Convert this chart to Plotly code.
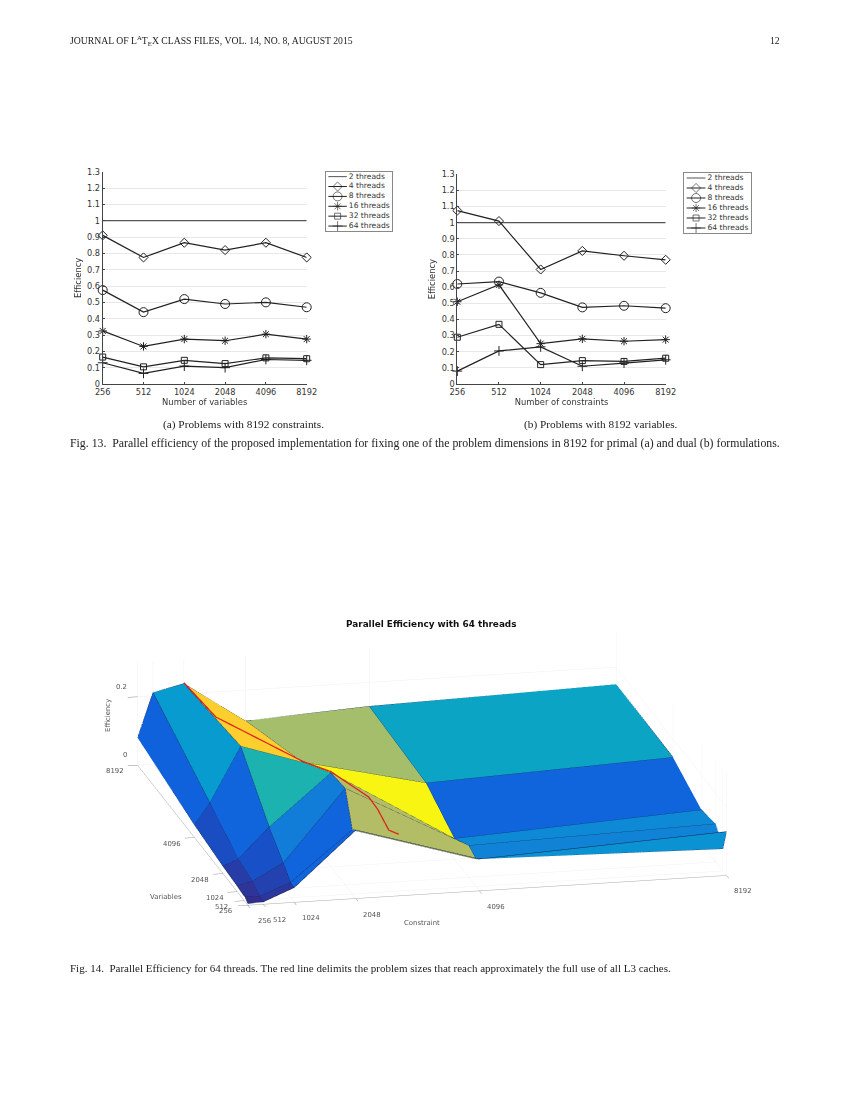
import plotly.graph_objects as go

W, H = 850, 1100

problem_sizes = [256, 512, 1024, 2048, 4096, 8192]
thread_names = ["2 threads", "4 threads", "8 threads", "16 threads", "32 threads", "64 threads"]
efficiency_ticks = [0, 0.1, 0.2, 0.3, 0.4, 0.5, 0.6, 0.7, 0.8, 0.9, 1, 1.1, 1.2, 1.3]
surface_z_ticks = [0, 0.2]

vars_2 = [1, 1, 1, 1, 1, 1]
vars_4 = [0.91, 0.775, 0.865, 0.82, 0.865, 0.775]
vars_8 = [0.575, 0.44, 0.52, 0.49, 0.50, 0.47]
vars_16 = [0.325, 0.23, 0.275, 0.265, 0.305, 0.275]
vars_32 = [0.165, 0.105, 0.145, 0.125, 0.16, 0.155]
vars_64 = [0.13, 0.065, 0.11, 0.10, 0.15, 0.145]

cons_2 = [1, 1, 1, 1, 1, 1]
cons_4 = [1.075, 1.01, 0.71, 0.825, 0.795, 0.77]
cons_8 = [0.62, 0.635, 0.565, 0.475, 0.485, 0.47]
cons_16 = [0.51, 0.615, 0.25, 0.28, 0.265, 0.275]
cons_32 = [0.29, 0.37, 0.12, 0.145, 0.14, 0.16]
cons_64 = [0.08, 0.205, 0.23, 0.11, 0.13, 0.15]

# surface heights: one row per variable count, one column per constraint count
surface_z = [
    [0.005, 0.007, 0.043, 0.200, 0.093, 0.128],
    [0.013, 0.010, 0.045, 0.187, 0.080, 0.065],
    [0.017, 0.028, 0.076, 0.282, 0.0925, 0.111],
    [0.022, 0.040, 0.1275, 0.2745, 0.060, 0.099],
    [0.037, 0.0986, 0.258, 0.200, 0.117, 0.147],
    [0.080, 0.210, 0.230, 0.110, 0.130, 0.150],
]
# value that sets each facet's colour
cell_value = [
    [0.003, 0.008, 0.036, 0.174, 0.076],
    [0.006, 0.014, 0.036, 0.174, 0.062],
    [0.011, 0.022, 0.056, 0.174, 0.067],
    [0.020, 0.036, 0.115, 0.272, 0.036],
    [0.034, 0.084, 0.224, 0.168, 0.095],
]
limit_constraints = [1024, 1050, 2048, 2048, 2385, 2538, 2673, 2792]
limit_variables = [8192, 6000, 4096, 2048, 785, 800, 600, 400]
limit_efficiency = [0.233, 0.245, 0.203, 0.278, 0.265, 0.226, 0.175, 0.172]

parula = [
    [0.0, "#352a87"], [0.1, "#0f5cdd"], [0.2, "#127dd8"], [0.3, "#079ccf"],
    [0.4, "#15b1b4"], [0.5, "#59bd8c"], [0.6, "#a5be6b"], [0.7, "#e1b952"],
    [0.8, "#fcce2e"], [0.9, "#f5e41d"], [1.0, "#f9fb0e"],
]

INK = "#222222"
SANS = "DejaVu Sans"
SERIF = "Liberation Serif"


def px_x(a, b):
    return [a / W, b / W]


def px_y(top, bottom):
    return [1 - bottom / H, 1 - top / H]


fig = go.Figure()
styles = [None, "diamond-open", "circle-open", "asterisk-open", "square-open", "cross-thin-open"]
sizes = [0, 7, 9, 7, 6, 7]


def add_lines(series, xaxis, yaxis):
    for name, vals, sym, sz in zip(thread_names, series, styles, sizes):
        fig.add_trace(go.Scatter(
            x=[str(p) for p in problem_sizes], y=vals, name=name, xaxis=xaxis, yaxis=yaxis,
            showlegend=False, cliponaxis=False,
            mode="lines" if sym is None else "lines+markers",
            line=dict(color="#555555" if sym is None else INK, width=1.2),
            marker=dict(symbol=sym or "circle", size=sz, color=INK, line=dict(color=INK, width=1)),
        ))


def add_key(xaxis, yaxis):
    rows = list(range(len(thread_names)))
    for row, name, sym, sz in zip(rows, thread_names, styles, sizes):
        fig.add_trace(go.Scatter(
            x=[0.04, 0.18, 0.32], y=[row] * 3, xaxis=xaxis, yaxis=yaxis, name=name,
            showlegend=False, cliponaxis=False, hoverinfo="skip",
            mode="lines" if sym is None else "lines+markers",
            line=dict(color="#555555" if sym is None else INK, width=1),
            marker=dict(symbol=sym or "circle", size=[0, sz, 0], color=INK, line=dict(color=INK, width=0.9)),
        ))
    fig.add_trace(go.Scatter(
        x=[0.35] * len(rows), y=rows, text=thread_names, xaxis=xaxis, yaxis=yaxis, mode="text",
        textposition="middle right", textfont=dict(family=SANS, size=7.6, color="#333333"),
        showlegend=False, cliponaxis=False, hoverinfo="skip",
    ))


add_lines([vars_2, vars_4, vars_8, vars_16, vars_32, vars_64], "x", "y")
add_lines([cons_2, cons_4, cons_8, cons_16, cons_32, cons_64], "x2", "y2")
add_key("x3", "y3")
add_key("x4", "y4")

# 3D surface built from the grid
n = len(problem_sizes)
vx, vy, vz = [], [], []
for r in range(n):
    for c in range(n):
        vx.append(problem_sizes[c])
        vy.append(problem_sizes[r])
        vz.append(surface_z[r][c])
ti, tj, tk, intensity = [], [], [], []
for r in range(n - 1):
    for c in range(n - 1):
        p = r * n + c
        ti += [p, p]
        tj += [p + 1, p + n + 1]
        tk += [p + n + 1, p + n]
        intensity += [cell_value[r][c]] * 2
fig.add_trace(go.Mesh3d(
    x=vx, y=vy, z=vz, i=ti, j=tj, k=tk, intensity=intensity, intensitymode="cell",
    colorscale=parula, cmin=0, cmax=0.28, showscale=False, flatshading=True,
    lighting=dict(ambient=1, diffuse=0, specular=0, fresnel=0, roughness=1),
    hoverinfo="skip", scene="scene", showlegend=False,
))
ex, ey, ez = [], [], []
for r in range(n):
    for c in range(n):
        ex.append(problem_sizes[c]); ey.append(problem_sizes[r]); ez.append(surface_z[r][c])
    ex.append(None); ey.append(None); ez.append(None)
for c in range(n):
    for r in range(n):
        ex.append(problem_sizes[c]); ey.append(problem_sizes[r]); ez.append(surface_z[r][c])
    ex.append(None); ey.append(None); ez.append(None)
fig.add_trace(go.Scatter3d(x=ex, y=ey, z=ez, mode="lines", scene="scene", showlegend=False,
                           line=dict(color="#14224a", width=1), hoverinfo="skip"))
fig.add_trace(go.Scatter3d(x=limit_constraints, y=limit_variables, z=limit_efficiency, mode="lines",
                           scene="scene", showlegend=False, line=dict(color="#e0201b", width=2.5),
                           hoverinfo="skip"))

axis_font = dict(family=SANS, size=8.2, color="#333333")
title_font = dict(family=SANS, size=8.4, color="#333333")


def xaxis_style(title, dom):
    return dict(domain=dom, type="category", categoryorder="array",
                categoryarray=[str(p) for p in problem_sizes], range=[0, 5],
                title=dict(text=title, font=title_font, standoff=2), tickfont=axis_font,
                showgrid=False, showline=True, linecolor="#444444", linewidth=1,
                ticks="inside", ticklen=2, tickcolor="#444444", zeroline=False, fixedrange=True)


def yaxis_style(dom, anchor):
    return dict(domain=dom, anchor=anchor, range=[0, 1.3], tickvals=efficiency_ticks,
                ticktext=[f"{v:g}" for v in efficiency_ticks],
                title=dict(text="Efficiency", font=title_font, standoff=4), tickfont=axis_font,
                showgrid=True, gridcolor="#e8e8e8", gridwidth=1, showline=True,
                linecolor="#444444", linewidth=1, ticks="inside", ticklen=2, tickcolor="#444444",
                zeroline=False, fixedrange=True)


def key_x(dom, anchor):
    return dict(domain=dom, anchor=anchor, range=[0, 1], visible=True, showticklabels=False, ticks="",
                showgrid=False, zeroline=False, showline=True, mirror=True, linecolor="#888888",
                linewidth=1, fixedrange=True)


def key_y(dom, anchor):
    return dict(domain=dom, anchor=anchor, range=[5.5, -0.5], showticklabels=False, ticks="",
                showgrid=False, zeroline=False, showline=True, mirror=True, linecolor="#888888",
                linewidth=1, fixedrange=True)


scene_axis = dict(showbackground=False, gridcolor="#f0f0f0", gridwidth=1, showline=True,
                  linecolor="#a8a8a8", linewidth=1, zeroline=False, showspikes=False,
                  showticklabels=False, ticks="outside", ticklen=10, tickcolor="#888888",
                  title=dict(text=""))
scene_font = dict(family=SANS, size=6.9, color="#555555")


def scene_text(t, x, y, z, dx, dy, anchor="center", angle=0):
    return dict(text=t, x=x, y=y, z=z, showarrow=False, xshift=dx, yshift=-dy, xanchor=anchor,
                yanchor="middle", textangle=angle, font=scene_font)


scene_labels = (
    [scene_text(str(c), c, problem_sizes[0], 0, 17, 16) for c in problem_sizes]
    + [scene_text(str(v), problem_sizes[0], v, 0, -22, 6) for v in problem_sizes]
    + [scene_text(f"{z:g}", problem_sizes[0], problem_sizes[-1], z, -8, -10, anchor="right") for z in surface_z_ticks]
    + [scene_text("Constraint", 4096, problem_sizes[0], 0, -57, 32),
       scene_text("Variables", problem_sizes[0], 2048, 0, -56, 23),
       scene_text("Efficiency", problem_sizes[0], problem_sizes[-1], 0.15, -29, 2, angle=-90)]
)


def text(t, x, y, size=11, family=SERIF, anchor="left", color="#222222"):
    return dict(text=t, x=x / W, y=1 - y / H, xref="paper", yref="paper", showarrow=False,
                xanchor=anchor, yanchor="middle", font=dict(family=family, size=size, color=color))


EYE_DISTANCE = 6
BOX_SCALE = 2.58

fig.update_layout(
    width=W, height=H, autosize=False, margin=dict(l=0, r=0, t=0, b=0, autoexpand=False),
    paper_bgcolor="white", plot_bgcolor="white", showlegend=False,
    xaxis=xaxis_style("Number of variables", px_x(102.7, 306.7)),
    yaxis=yaxis_style(px_y(171.7, 384), "x"),
    xaxis2=xaxis_style("Number of constraints", px_x(457.3, 665.7)) | dict(anchor="y2"),
    yaxis2=yaxis_style(px_y(174.3, 384), "x2"),
    xaxis3=key_x(px_x(325.7, 391.7), "y3"),
    yaxis3=key_y(px_y(171.7, 231), "x3"),
    xaxis4=key_x(px_x(684, 751), "y4"),
    yaxis4=key_y(px_y(173, 233), "x4"),
    scene=dict(
        domain=dict(x=px_x(91.5, 771.5), y=px_y(579, 959)),
        aspectmode="manual",
        aspectratio=dict(x=BOX_SCALE, y=1.041 * BOX_SCALE, z=0.2184 * BOX_SCALE),
        camera=dict(eye=dict(x=-0.2075 * EYE_DISTANCE, y=-0.9374 * EYE_DISTANCE, z=0.281 * EYE_DISTANCE),
                    up=dict(x=0, y=0, z=1), center=dict(x=0, y=0, z=0),
                    projection=dict(type="orthographic")),
        xaxis=scene_axis | dict(range=[256, 8192], tickvals=problem_sizes),
        yaxis=scene_axis | dict(range=[256, 8192], tickvals=problem_sizes),
        zaxis=scene_axis | dict(range=[0, 0.3], tickvals=surface_z_ticks, showline=False),
        annotations=scene_labels,
    ),
    annotations=[
        text("JOURNAL OF L<sup>A</sup>T<sub>E</sub>X CLASS FILES, VOL. 14, NO. 8, AUGUST 2015", 68, 40, 9.7),
        text("12", 782, 40, 9.7, anchor="right"),
        text("(a) Problems with 8192 constraints.", 243, 424, 11.3, anchor="center"),
        text("(b) Problems with 8192 variables.", 601, 424, 11.3, anchor="center"),
        text("Fig. 13.\u00a0\u00a0Parallel efficiency of the proposed implementation for fixing one of the problem dimensions in 8192 for primal (a) and dual (b) formulations.", 68, 443, 11.8),
        text("<b>Parallel Efficiency with 64 threads</b>", 432, 624, 8.9, family=SANS, anchor="center", color="#111111"),
        text("Fig. 14.  Parallel Efficiency for 64 threads. The red line delimits the problem sizes that reach approximately the full use of all L3 caches.", 68, 968, 11),
    ],
)

fig.write_html("out.html", post_script="document.body.style.margin='0';", config=dict(displayModeBar=False))
